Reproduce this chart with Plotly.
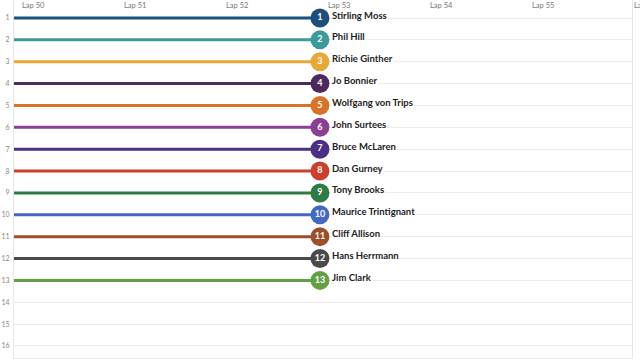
import plotly.graph_objects as go

laps = [50, 51, 52, 53]
lap_labels = ["Lap 50", "Lap 51", "Lap 52", "Lap 53", "Lap 54", "Lap 55", "Lap 56"]
lap_ticks = [50, 51, 52, 53, 54, 55, 56]
drivers = ["Stirling Moss", "Phil Hill", "Richie Ginther", "Jo Bonnier", "Wolfgang von Trips",
           "John Surtees", "Bruce McLaren", "Dan Gurney", "Tony Brooks", "Maurice Trintignant",
           "Cliff Allison", "Hans Herrmann", "Jim Clark"]
positions = [1, 2, 3, 4, 5, 6, 7, 8, 9, 10, 11, 12, 13]
colors = ["#1d4f7c", "#3a9a9c", "#e8a838", "#4d2a5e", "#d8742a", "#8b3f93", "#4a2f82",
          "#c9412e", "#2e7b47", "#4569c0", "#9c4f2a", "#4a4a4a", "#62a043"]
rank_ticks = list(range(1, 17))

fig = go.Figure()
for name, pos, col in zip(drivers, positions, colors):
    fig.add_trace(go.Scatter(x=laps, y=[pos] * len(laps), mode="lines",
                             line=dict(color=col, width=3), hoverinfo="skip", showlegend=False))
for name, pos, col in zip(drivers, positions, colors):
    fig.add_trace(go.Scatter(x=[laps[-1]], y=[pos], mode="markers+text",
                             marker=dict(color=col, size=19, line=dict(width=0)),
                             text=[str(pos)], textposition="middle center",
                             textfont=dict(color="white", size=9, family="Lato", weight="bold"),
                             hoverinfo="skip", showlegend=False))
    fig.add_annotation(x=laps[-1], y=pos, text=name, showarrow=False, xanchor="left",
                       xshift=11, yshift=3, bgcolor="white", borderpad=0,
                       font=dict(size=9.5, family="Lato", color="#222", weight="bold"))

for t, lbl in zip(lap_ticks, lap_labels):
    fig.add_annotation(x=t, y=1 - 5 / 358, yref="paper", yanchor="middle", text=lbl,
                       showarrow=False, xanchor="left", xshift=6,
                       font=dict(size=7.5, family="Lato", color="#777"))

fig.update_layout(
    width=640, height=360, margin=dict(l=14, r=8, t=0, b=2),
    paper_bgcolor="white", plot_bgcolor="white",
    xaxis=dict(range=[50, 56.06], showgrid=False, zeroline=False, showticklabels=False,
               showline=True, linecolor="#e8e8e8", linewidth=1),
    yaxis=dict(range=[16.55, 0.177], tickvals=rank_ticks, ticktext=[str(r) for r in rank_ticks],
               showgrid=True, gridcolor="#ededed", gridwidth=1, zeroline=False,
               showline=True, linecolor="#e8e8e8", mirror=True, ticks="",
               tickfont=dict(size=7, family="Lato", color="#888"), ticklabelstandoff=2),
)
fig.write_html("out.html")
